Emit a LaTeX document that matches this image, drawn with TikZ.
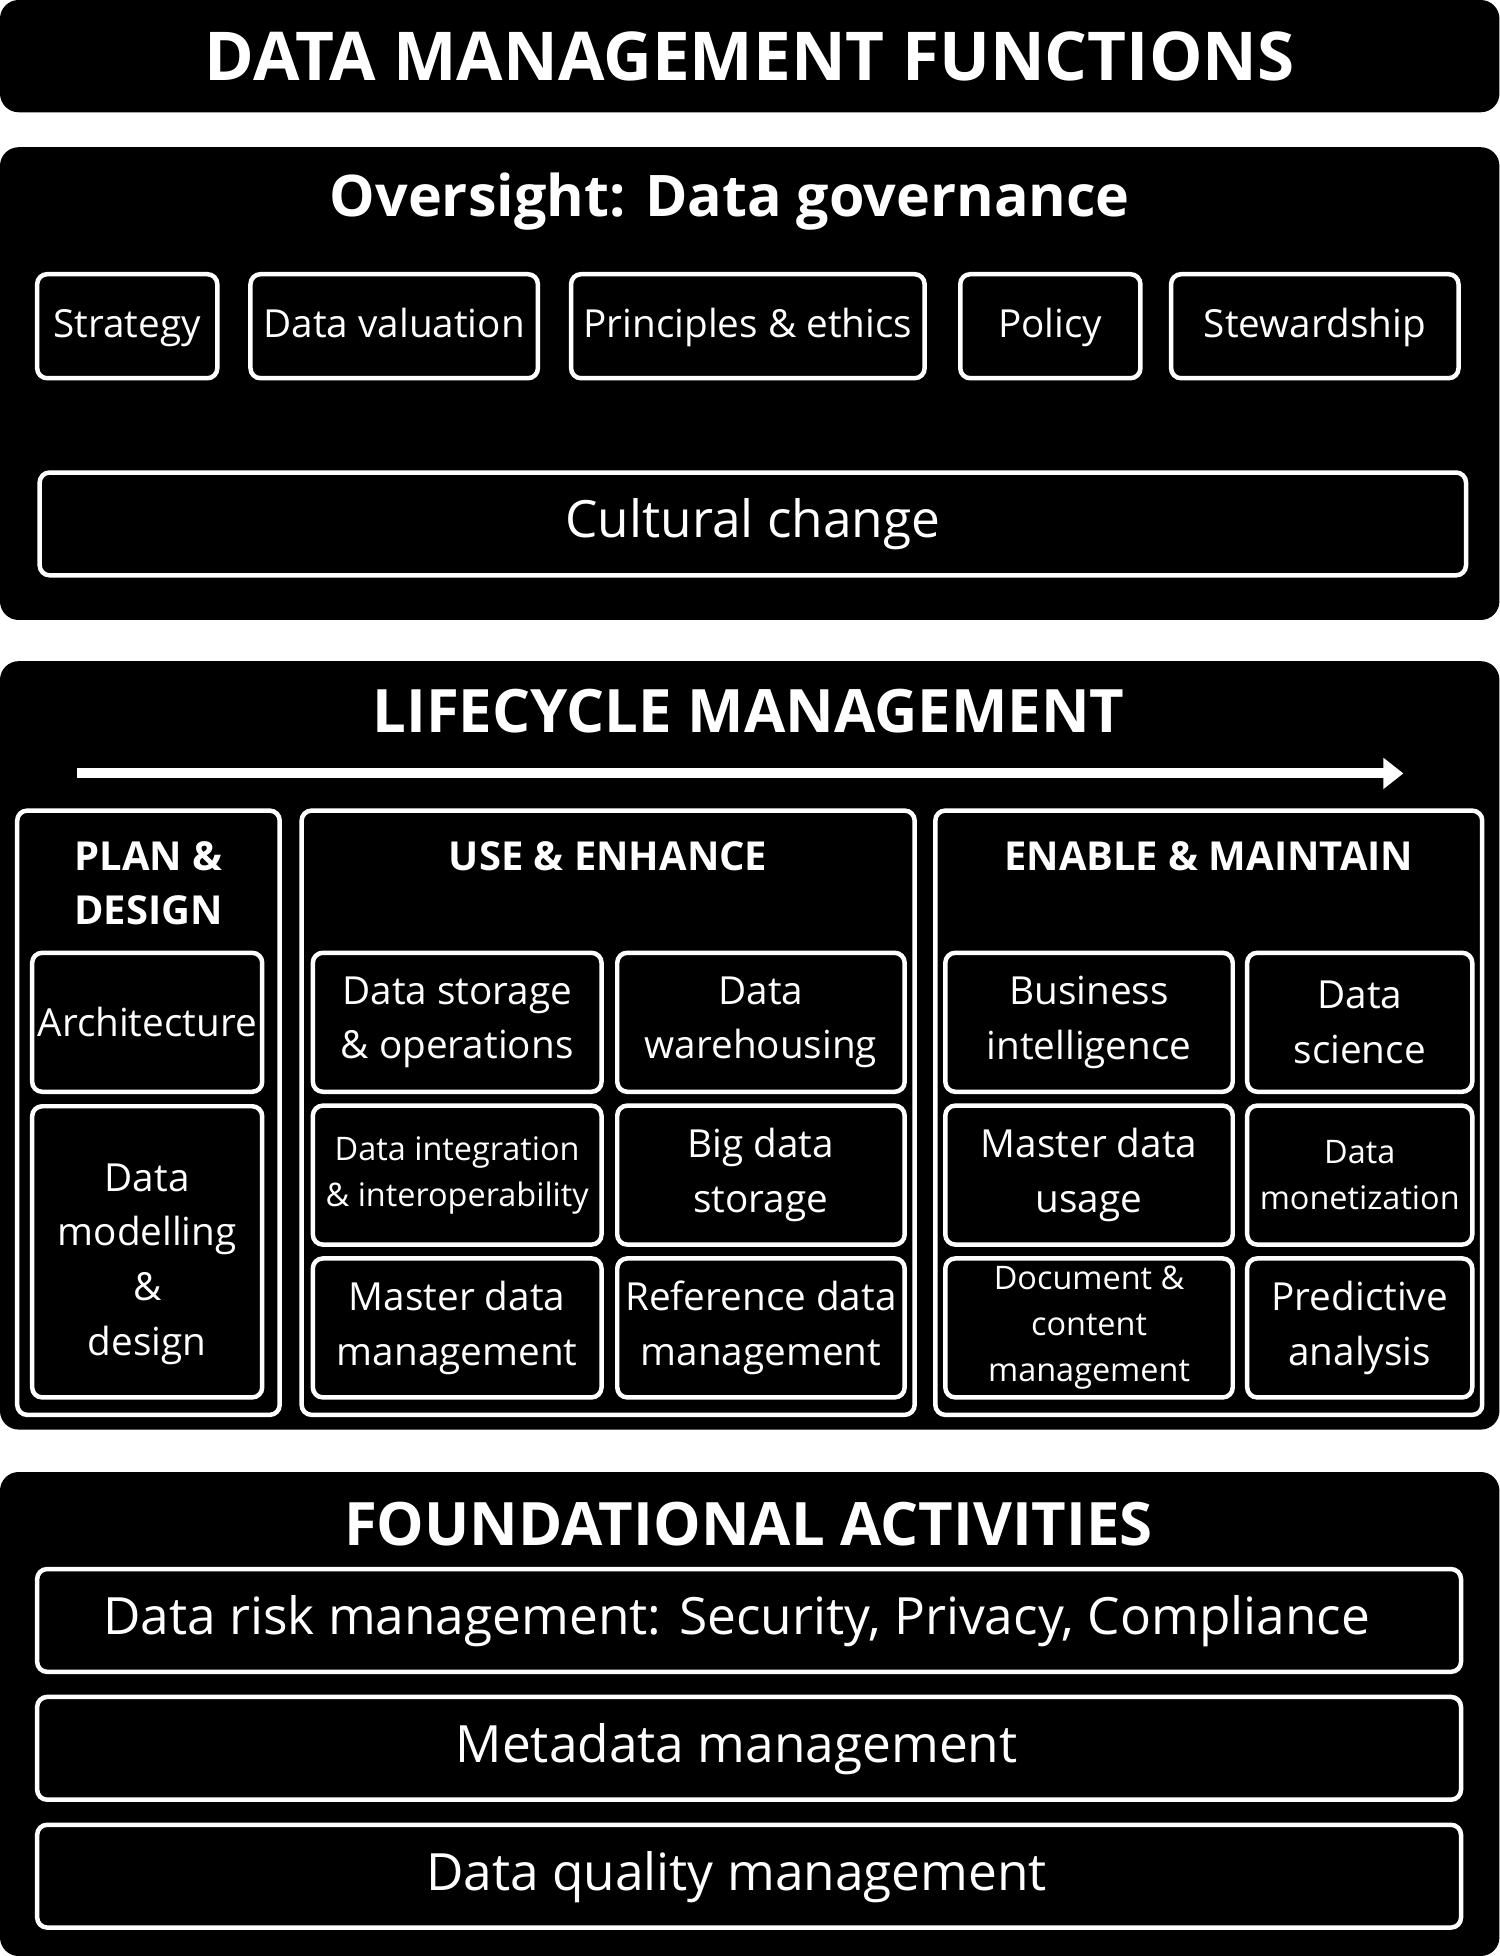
\documentclass[tikz,border=0pt]{standalone}
\usepackage{fontspec}
\setmainfont{Open Sans}
\usetikzlibrary{
  arrows.meta,
  positioning,
}
\tikzstyle{panel} = [
  rectangle,
  fill=black,
  rounded corners=7.5pt,
  inner sep=0pt,
  text=white,
  minimum width=601pt,
]
\tikzstyle{cell} = [
  rectangle,
  draw=white,
  line width=1.8pt,
  rounded corners=4pt,
  inner sep=0pt,
  text=white,
  align=center,
  font=\fontsize{15.5}{22}\selectfont,
]
\tikzstyle{smallcell} = [cell, font=\fontsize{13}{18.5}\selectfont]
\tikzstyle{rowcell} = [cell, text height=13pt, text depth=4pt]
\tikzstyle{bigcell} = [cell, font=\fontsize{20.6}{25}\selectfont, text height=16.2pt, text depth=5pt]
\tikzstyle{head} = [text=white, font=\fontsize{24}{29}\selectfont\bfseries]
\tikzstyle{subhead} = [text=white, align=center, font=\fontsize{16}{22}\selectfont\bfseries]
\tikzstyle{flow} = [
  -{Triangle[length=8pt,width=12pt]},
  line width=4pt,
  white,
]

\begin{document}
\begin{tikzpicture}[x=0.5pt,y=-0.5pt,node distance=3.75pt and 4.5pt]

      \useasboundingbox (0,0) rectangle (1202,1568);

      % title bar
      \node[panel,minimum height=45pt,head,font=\fontsize{27}{32}\selectfont\bfseries] (title) at (601,45) {DATA MANAGEMENT FUNCTIONS};

      % governance
      \node[panel,minimum height=189.5pt] (oversight) at (601,307.5) {};
      \node[head,font=\fontsize{23}{28}\selectfont\bfseries,text height=16.5pt,text depth=0pt] (govhead) at (585,157) {Oversight: Data governance};
      \node[rowcell,minimum width=72.2pt,minimum height=41.7pt] (strategy) at (102,261.5) {Strategy};
      \node[rowcell,minimum width=115.2pt,minimum height=41.7pt] (valuation) [right=11.5pt of strategy] {Data valuation};
      \node[rowcell,minimum width=141.7pt,minimum height=41.7pt] (ethics) [right=11.5pt of valuation] {Principles \& ethics};
      \node[rowcell,minimum width=72.2pt,minimum height=41.7pt] (policy) [right=12.5pt of ethics] {Policy};
      \node[rowcell,minimum width=115.2pt,minimum height=41.7pt] (stewardship) [right=10.5pt of policy] {Stewardship};
      \node[bigcell,minimum width=571.7pt,minimum height=41.2pt] (culture) at (603.5,420) {Cultural change};

      % lifecycle
      \node[panel,minimum height=308pt] (lifecycle) at (601,838) {};
      \node[head] (lifehead) at (600,570) {LIFECYCLE MANAGEMENT};
      \coordinate (flowstart) at (62,620);
      \coordinate (flowend) at (1125,620);
      \draw[flow] (flowstart) -- (flowend);

      \node[cell,minimum width=105.2pt,minimum height=242.2pt] (plan) at (119,892) {};
      \node[cell,minimum width=245.7pt,minimum height=242.2pt] (use) [right=7pt of plan] {};
      \node[cell,minimum width=219.2pt,minimum height=242.2pt] (enable) [right=6.5pt of use] {};
      \node[subhead] (planhead) at (119,708) {PLAN \&\\DESIGN};
      \node[subhead] (usehead) at (487.5,686) {USE \& ENHANCE};
      \node[subhead] (enablehead) at (969,686) {ENABLE \& MAINTAIN};

      \node[cell,minimum width=92.2pt,minimum height=55.7pt] (arch) at (118,819.5) {Architecture};
      \node[cell,minimum width=92.2pt,minimum height=116.7pt] (model) [below=4pt of arch] {\rule{0pt}{21pt}Data\\modelling\\\&\\design};

      \node[cell,minimum width=115.7pt,minimum height=55.7pt] (storage) at (366.5,819.5) {Data storage\\\& operations};
      \node[cell,minimum width=115.2pt,minimum height=55.7pt] (warehouse) [right=of storage] {Data\\warehousing};
      \node[smallcell,minimum width=115.7pt,minimum height=55.7pt] (integration) [below=of storage] {Data integration\\\& interoperability};
      \node[cell,minimum width=115.2pt,minimum height=55.7pt] (bigdata) [below=of warehouse] {Big data\\storage};
      \node[cell,minimum width=115.7pt,minimum height=55.7pt] (masterdata) [below=of integration] {Master data\\management};
      \node[cell,minimum width=115.2pt,minimum height=55.7pt] (refdata) [below=of bigdata] {Reference data\\management};

      \node[cell,minimum width=115.2pt,minimum height=55.7pt] (bi) at (873,819.5) {Business\\intelligence};
      \node[cell,minimum width=90.2pt,minimum height=55.7pt] (science) [right=4pt of bi] {Data\\science};
      \node[cell,minimum width=115.2pt,minimum height=55.7pt] (mdusage) [below=of bi] {Master data\\usage};
      \node[smallcell,minimum width=90.2pt,minimum height=55.7pt] (monetize) [below=of science] {Data\\monetization};
      \node[smallcell,minimum width=115.2pt,minimum height=55.7pt] (document) [below=of mdusage] {Document \&\\content\\management};
      \node[cell,minimum width=90.2pt,minimum height=55.7pt] (predict) [below=of monetize] {Predictive\\analysis};

      % foundations
      \node[panel,minimum height=194pt] (foundation) at (601,1374) {};
      \node[head] (foundhead) at (600,1222) {FOUNDATIONAL ACTIVITIES};
      \node[bigcell,minimum width=570.7pt,minimum height=41.2pt] (risk) at (600.5,1299) {Data risk management: Security, Privacy, Compliance\hspace*{10pt}};
      \node[bigcell,minimum width=570.7pt,minimum height=41.2pt] (metadata) [below=8.25pt of risk] {Metadata management\hspace*{10pt}};
      \node[bigcell,minimum width=570.7pt,minimum height=41.2pt] (quality) [below=8.25pt of metadata] {Data quality management\hspace*{10pt}};

\end{tikzpicture}
\end{document}
